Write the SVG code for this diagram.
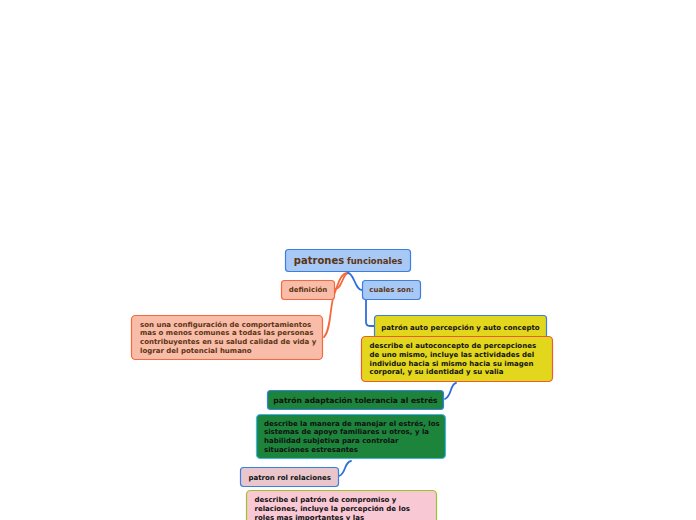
<svg xmlns="http://www.w3.org/2000/svg" width="696" height="520" viewBox="0 0 696 520">
<style>
text{font-family:"DejaVu Sans","Verdana",sans-serif;font-weight:bold;font-size:7px;fill:#111}
.br{fill:#5a3512}
.n rect{stroke-width:1.2}
.orange{fill:#f9bca8;stroke:#f36a3c}
.blue{fill:#a8c8f6;stroke:#3b7fe0}
.yel{fill:#e3d71e;stroke:#3b7fe0}
.yel2{fill:#e3d71e;stroke:#f05a30}
.grn{fill:#1d843c;stroke:#3b7fe0}
.grn2{fill:#1d843c;stroke:#44b4ea}
.pink{fill:#e8c6cc;stroke:#3b7fe0}
.pink2{fill:#f9c8d5;stroke:#9cc424}
.c{fill:none;stroke-width:1.8;stroke-linecap:round}
.co{stroke:#f36a3c}
.cb{stroke:#2f6fdc}
</style>
<g id="connectors">
<path class="c co" d="M348,273 C343,273 342,289 335,289"/>
<path class="c co" d="M348,273 C340,273 338,285 334,295 C330,305 331,330 324,337"/>
<path class="c cb" d="M348,273 C354,273 355,290 362,290"/>
<path class="c cb" d="M366,299 L366,322 Q366,326 370,326 L374,326"/>
<path class="c cb" d="M445,399 C452,396 450,384 456,383"/>
<path class="c cb" d="M339,476 C346,474 344,462 351,461"/>
</g>
<g id="n-main" class="n"><rect class="blue" x="285.5" y="249.5" width="125" height="22" rx="3"/><text x="348" y="264" text-anchor="middle"><tspan class="br" style="font-size:10px">patrones</tspan><tspan class="br" style="font-size:8.5px"> funcionales</tspan></text></g>
<g id="n-definicion" class="n"><rect class="orange" x="281.5" y="280.5" width="53" height="19" rx="3"/><text class="br" x="308" y="292" text-anchor="middle">definición</text></g>
<g id="n-sonuna" class="n"><rect class="orange" x="131.5" y="315.5" width="191" height="44" rx="4"/><text class="br" x="140" y="326.5"><tspan x="140">son una configuración de comportamientos</tspan><tspan x="140" dy="8.8">mas o menos comunes a todas las personas</tspan><tspan x="140" dy="8.8">contribuyentes en su salud calidad de vida y</tspan><tspan x="140" dy="8.8">lograr del potencial humano</tspan></text></g>
<g id="n-cuales" class="n"><rect class="blue" x="362.5" y="280.5" width="58" height="19" rx="3"/><text class="br" x="391.5" y="292" text-anchor="middle">cuales son:</text></g>
<g id="n-autopercepcion" class="n"><rect class="yel" x="374.5" y="315.5" width="172" height="23" rx="3"/><text x="460.5" y="330" text-anchor="middle">patrón auto percepción y auto concepto</text></g>
<g id="n-autoconcepto" class="n"><rect class="yel2" x="361.5" y="336.5" width="191" height="45" rx="4"/><text x="369.5" y="348"><tspan x="369.5">describe el autoconcepto de percepciones</tspan><tspan x="369.5" dy="8.8">de uno mismo, incluye las actividades del</tspan><tspan x="369.5" dy="8.8">individuo hacia si mismo hacia su imagen</tspan><tspan x="369.5" dy="8.8">corporal, y su identidad y su valia</tspan></text></g>
<g id="n-adaptacion" class="n"><rect class="grn" x="267.5" y="390.5" width="176" height="19" rx="3"/><text x="355.5" y="402.5" text-anchor="middle" style="font-size:7.6px">patrón adaptación tolerancia al estrés</text></g>
<g id="n-estres" class="n"><rect class="grn2" x="256.5" y="414.5" width="189" height="44" rx="4"/><text x="264" y="425.5"><tspan x="264">describe la manera de manejar el estrés, los</tspan><tspan x="264" dy="8.8">sistemas de apoyo familiares u otros, y la</tspan><tspan x="264" dy="8.8">habilidad subjetiva para controlar</tspan><tspan x="264" dy="8.8">situaciones  estresantes</tspan></text></g>
<g id="n-rol" class="n"><rect class="pink" x="240.5" y="467.5" width="98" height="19" rx="3"/><text x="248.5" y="479.5">patron rol relaciones</text></g>
<g id="n-compromiso" class="n"><rect class="pink2" x="246.5" y="490.5" width="190" height="40" rx="4"/><text x="254.5" y="502"><tspan x="254.5">describe el patrón de compromiso y</tspan><tspan x="254.5" dy="8.8">relaciones, incluye la percepción de los</tspan><tspan x="254.5" dy="8.8">roles mas importantes y las</tspan></text></g>
</svg>
